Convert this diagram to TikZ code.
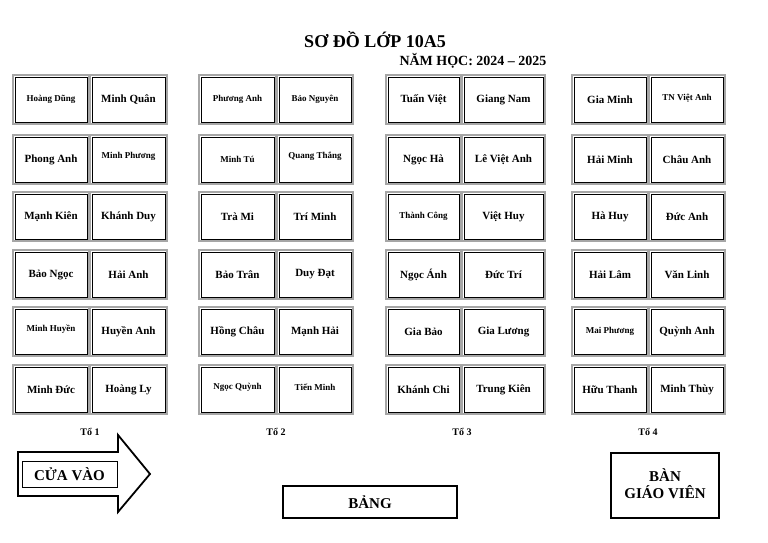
\documentclass[tikz,border=0pt]{standalone}
\usepackage{fontspec}
\setmainfont{Liberation Serif}
\begin{document}
\begin{tikzpicture}[x=1pt,y=-1pt,
 cellbox/.style={draw=gray!70,line width=1.2pt},
 cellin/.style={draw=black,line width=0.8pt},
 nm/.style={font=\bfseries\fontsize{11}{12}\selectfont},
 sm/.style={font=\bfseries\fontsize{9}{10}\selectfont},
 lbl/.style={font=\bfseries\fontsize{10}{11}\selectfont}]
\useasboundingbox (0,0) rectangle (768,543);
\node[font=\bfseries\fontsize{18}{20}\selectfont] (title) at (375,40) {SƠ ĐỒ LỚP 10A5};
\node[font=\bfseries\fontsize{14}{16}\selectfont] (year) at (473,61) {NĂM HỌC: 2024 – 2025};
\def\rowsy{{75,135,192,250,307,365}}
\def\cell#1#2#3#4#5{% x1 x2 row style text
 \pgfmathsetmacro\ya{\rowsy[#3]}\pgfmathsetmacro\yb{\ya+49}
 \draw[cellbox] (#1,\ya) rectangle (#2,\yb);
 \draw[cellin] (#1+2,\ya+2) rectangle (#2-2,\yb-2);
 \node[#4] (c#1r#3) at ({(#1+#2)/2},{\ya+24.5}) {#5};}
% To 1
\cell{13}{89}{0}{sm}{Hoàng Dũng}\cell{90}{167}{0}{nm}{Minh Quân}
\cell{13}{89}{1}{nm}{Phong Anh}\cell{90}{167}{1}{sm,yshift=3}{Minh Phương}
\cell{13}{89}{2}{nm}{Mạnh Kiên}\cell{90}{167}{2}{nm}{Khánh Duy}
\cell{13}{89}{3}{nm}{Bảo Ngọc}\cell{90}{167}{3}{nm}{Hải Anh}
\cell{13}{89}{4}{sm,yshift=2}{Minh Huyền}\cell{90}{167}{4}{nm}{Huyền Anh}
\cell{13}{89}{5}{nm}{Minh Đức}\cell{90}{167}{5}{nm}{Hoàng Ly}
% To 2
\cell{199}{276}{0}{sm}{Phương Anh}\cell{277}{353}{0}{sm}{Bảo Nguyên}
\cell{199}{276}{1}{sm}{Minh Tú}\cell{277}{353}{1}{sm,yshift=3}{Quang Thắng}
\cell{199}{276}{2}{nm}{Trà Mi}\cell{277}{353}{2}{nm}{Trí Minh}
\cell{199}{276}{3}{nm}{Bảo Trân}\cell{277}{353}{3}{nm}{Duy Đạt}
\cell{199}{276}{4}{nm}{Hồng Châu}\cell{277}{353}{4}{nm}{Mạnh Hải}
\cell{199}{276}{5}{sm,yshift=2}{Ngọc Quỳnh}\cell{277}{353}{5}{sm,yshift=2}{Tiến Minh}
% To 3
\cell{386}{461}{0}{nm}{Tuấn Việt}\cell{462}{545}{0}{nm}{Giang Nam}
\cell{386}{461}{1}{nm}{Ngọc Hà}\cell{462}{545}{1}{nm}{Lê Việt Anh}
\cell{386}{461}{2}{sm}{Thành Công}\cell{462}{545}{2}{nm}{Việt Huy}
\cell{386}{461}{3}{nm}{Ngọc Ánh}\cell{462}{545}{3}{nm}{Đức Trí}
\cell{386}{461}{4}{nm}{Gia Bảo}\cell{462}{545}{4}{nm}{Gia Lương}
\cell{386}{461}{5}{nm}{Khánh Chi}\cell{462}{545}{5}{nm}{Trung Kiên}
% To 4
\cell{572}{648}{0}{nm}{Gia Minh}\cell{649}{725}{0}{sm,yshift=1}{TN Việt Anh}
\cell{572}{648}{1}{nm}{Hải Minh}\cell{649}{725}{1}{nm}{Châu Anh}
\cell{572}{648}{2}{nm}{Hà Huy}\cell{649}{725}{2}{nm}{Đức Anh}
\cell{572}{648}{3}{nm}{Hải Lâm}\cell{649}{725}{3}{nm}{Văn Linh}
\cell{572}{648}{4}{sm}{Mai Phương}\cell{649}{725}{4}{nm}{Quỳnh Anh}
\cell{572}{648}{5}{nm}{Hữu Thanh}\cell{649}{725}{5}{nm}{Minh Thùy}
\node[lbl] (t1) at (90,432) {Tổ 1};
\node[lbl] (t2) at (276,432) {Tổ 2};
\node[lbl] (t3) at (462,432) {Tổ 3};
\node[lbl] (t4) at (648,432) {Tổ 4};
% door arrow
\draw[line width=1.8pt,line join=miter] (18,452) -- (118,452) -- (118,435) -- (150,474) -- (118,512) -- (118,496) -- (18,496) -- cycle;
\draw[line width=0.8pt] (22,461) rectangle (117,487);
\node[font=\bfseries\fontsize{15}{16}\selectfont] (door) at (69.5,474) {CỬA VÀO};
\draw[line width=1.4pt] (283,486) rectangle (457,518);
\node[font=\bfseries\fontsize{15}{16}\selectfont] (board) at (370,502) {BẢNG};
\draw[line width=1.4pt] (611,453) rectangle (719,518);
\node[font=\bfseries\fontsize{15}{17}\selectfont,align=center] (desk) at (665,484) {BÀN\\GIÁO VIÊN};
\end{tikzpicture}
\end{document}
